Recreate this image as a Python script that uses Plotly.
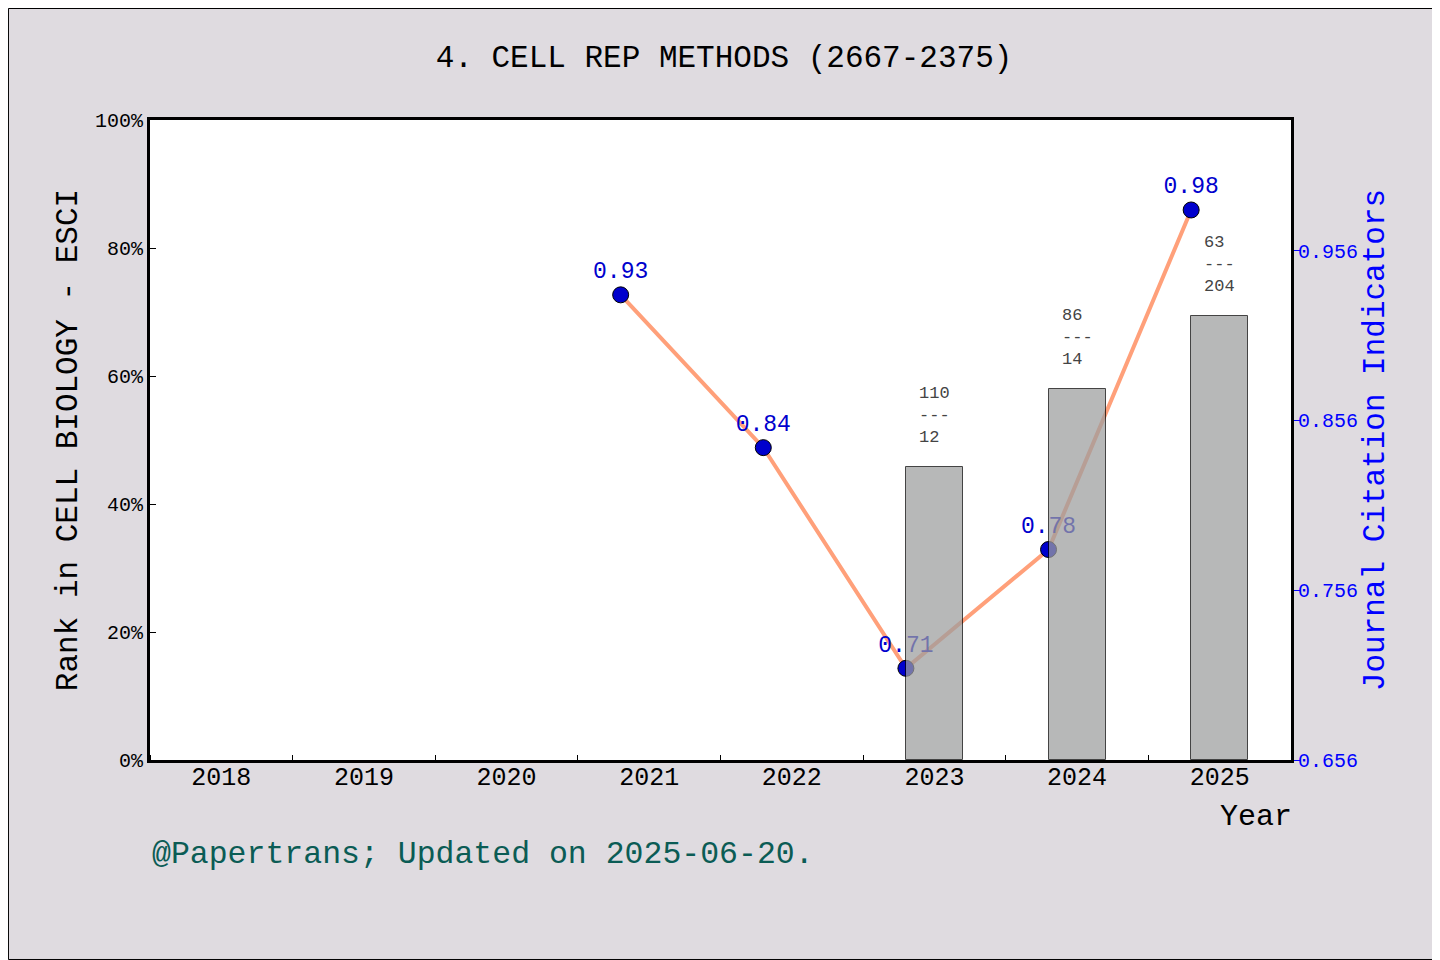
import plotly.graph_objs as go

# data
years = [2018, 2019, 2020, 2021, 2022, 2023, 2024, 2025]
rank_years = [2023, 2024, 2025]
rank_pct = [45.8, 58.0, 69.4]
rank_top = ['110', '86', '63']
rank_bottom = ['12', '14', '204']
jci_years = [2021, 2022, 2023, 2024, 2025]
jci = [0.93, 0.84, 0.71, 0.78, 0.98]
jci_ticks = [0.656, 0.756, 0.856, 0.956]
pct_ticks = [0, 20, 40, 60, 80, 100]

FONT = 'Liberation Mono'
BG = '#dfdbe0'
BLUE = '#0000cd'

fig = go.Figure()

# JCI line sits on the right axis (drawn underneath the bars)
fig.add_trace(go.Scatter(
    x=[y - 0.2 for y in jci_years], y=jci, yaxis='y',
    mode='lines+markers+text',
    line=dict(color='#ffa07a', width=4),
    marker=dict(size=16, color=BLUE, line=dict(color='black', width=1)),
    text=[f'{v:.2f}' for v in jci], textposition='top center',
    textfont=dict(family=FONT, size=23, color=BLUE),
    showlegend=False, cliponaxis=False,
))

fig.add_trace(go.Bar(
    x=rank_years, y=rank_pct, yaxis='y2', width=0.4,
    marker=dict(color='rgb(157,158,159)', line=dict(color='black', width=1)),
    opacity=0.73, showlegend=False,
))

for yr, pct, top, bot in zip(rank_years, rank_pct, rank_top, rank_bottom):
    fig.add_annotation(
        x=yr, y=pct, xref='x', yref='y2', yshift=18,
        text=f'{top}<br>---<br>{bot}', showarrow=False,
        xanchor='center', yanchor='bottom', align='left',
        font=dict(family=FONT, size=17, color='#444444'),
    )

fig.add_annotation(
    x=0, y=-0.148, xref='paper', yref='paper', showarrow=False,
    text='@Papertrans; Updated on 2025-06-20.', xanchor='left', yanchor='middle',
    font=dict(family=FONT, size=31.5, color='#0b5c55'),
)
fig.add_annotation(
    x=1.003, y=-0.089, xref='paper', yref='paper', showarrow=False,
    text='Year', xanchor='right', yanchor='middle',
    font=dict(family=FONT, size=30, color='black'),
)

# page adds 8px body margin, so the figure is a bit smaller than the window
W, H = 1432, 952
ml, mr, mt, mb = 142, 149, 112, 200
pw, ph = W - ml - mr, H - mt - mb
fig.add_shape(type='rect', xref='paper', yref='paper',
              x0=-ml / pw + 0.0004, x1=1 + mr / pw - 0.0004,
              y0=-mb / ph + 0.0008, y1=1 + mt / ph - 0.0008,
              line=dict(color='black', width=1), layer='below')

fig.update_layout(
    width=W, height=H,
    margin=dict(l=ml, r=mr, t=mt, b=mb),
    paper_bgcolor=BG, plot_bgcolor='white',
    font=dict(family=FONT, color='black'),
    title=dict(text='4. CELL REP METHODS (2667-2375)', x=0.5, xanchor='center',
               y=1 - 48 / H, yanchor='middle',
               font=dict(family=FONT, size=31, color='black')),
    bargap=0,
    xaxis=dict(
        range=[2017.5, 2025.5], tickvals=years, ticktext=[str(y) for y in years],
        ticks='', showgrid=False, zeroline=False, ticklabelstandoff=-8,
        showline=True, linecolor='black', linewidth=3, mirror=True,
        tickfont=dict(family=FONT, size=25, color='black'),
        minor=dict(ticks='inside', tick0=2017.5, dtick=1, ticklen=5,
                   tickcolor='black', tickwidth=1, showgrid=False),
    ),
    yaxis=dict(
        side='right', range=[0.656, 1.033], tickvals=jci_ticks,
        tickformat='.3f', ticks='outside', ticklen=6, tickcolor='blue',
        ticklabelstandoff=-6,
        showgrid=False, zeroline=False,
        showline=True, linecolor='black', linewidth=3,
        tickfont=dict(family=FONT, size=20, color='blue'),
        title=dict(text='Journal Citation Indicators', standoff=4,
                   font=dict(family=FONT, size=31, color='blue')),
    ),
    yaxis2=dict(
        side='left', overlaying='y', range=[0, 100],
        tickvals=pct_ticks, ticktext=[f'{v}%' for v in pct_ticks],
        ticks='inside', ticklen=6, tickcolor='black',
        showgrid=False, zeroline=False,
        showline=True, linecolor='black', linewidth=3,
        tickfont=dict(family=FONT, size=20, color='black'),
        title=dict(text='Rank in CELL BIOLOGY - ESCI', standoff=9,
                   font=dict(family=FONT, size=31, color='black')),
    ),
)

fig.write_html('out.html')
